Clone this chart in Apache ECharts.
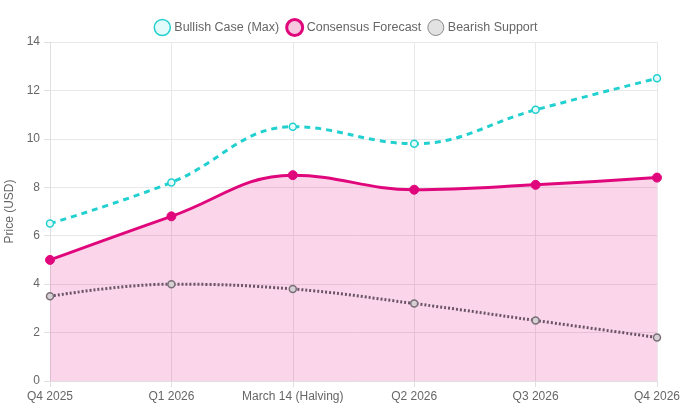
<!DOCTYPE html>
<html>
<head>
<meta charset="utf-8">
<script src="https://cdn.jsdelivr.net/npm/echarts@6/dist/echarts.min.js"></script>
<style>
html,body{margin:0;padding:0;background:#fff;}
#c{width:691px;height:419px;}
</style>
</head>
<body>
<div id="c"></div>
<script>
const categories = ['Q4 2025', 'Q1 2026', 'March 14 (Halving)', 'Q2 2026', 'Q3 2026', 'Q4 2026'];
const bullish = [6.5, 8.2, 10.5, 9.8, 11.2, 12.5];
const consensus = [5.0, 6.8, 8.5, 7.9, 8.1, 8.4];
const bearish = [3.5, 4.0, 3.8, 3.2, 2.5, 1.8];
const yTicks = {min: 0, max: 14, interval: 2};

const FONT = '"Liberation Sans", Arial, sans-serif';
const PINK = '#e0077d';
const CYAN = '#22d0d0';
const PURP = '#6b5468';

const chart = echarts.init(document.getElementById('c'));
chart.setOption({
  animation: false,
  textStyle: {fontFamily: FONT},
  legend: {
    top: 13,
    left: 'center',
    itemWidth: 16,
    itemHeight: 16,
    itemGap: 6,
    textStyle: {fontSize: 12.5, color: '#666', fontFamily: FONT, padding: [0, 0, 0, -1]},
    data: [
      {name: 'Bullish Case (Max)', icon: 'circle', itemStyle: {color: '#e3fbfb', borderColor: CYAN, borderWidth: 1.5}},
      {name: 'Consensus Forecast', icon: 'circle', itemStyle: {color: '#f7c6df', borderColor: PINK, borderWidth: 3}},
      {name: 'Bearish Support', icon: 'circle', itemStyle: {color: '#e2e2e2', borderColor: '#8a8a8a', borderWidth: 1}}
    ]
  },
  grid: {left: 50, right: 34, top: 42, bottom: 38, containLabel: false, outerBoundsMode: 'none'},
  xAxis: {
    type: 'category',
    data: categories,
    boundaryGap: false,
    axisLine: {show: true, lineStyle: {color: '#e0e0e0'}},
    axisTick: {show: true, length: 6, alignWithLabel: true, lineStyle: {color: '#e0e0e0'}},
    axisLabel: {color: '#666', fontSize: 12, margin: 10, fontFamily: FONT, interval: 0},
    splitLine: {show: true, lineStyle: {color: '#e8e8e8'}}
  },
  yAxis: {
    type: 'value',
    min: yTicks.min, max: yTicks.max, interval: yTicks.interval,
    name: 'Price (USD)',
    nameLocation: 'middle',
    nameGap: 30,
    nameRotate: 90,
    nameTextStyle: {color: '#666', fontSize: 12, fontFamily: FONT},
    axisLine: {show: true, lineStyle: {color: '#e0e0e0'}},
    axisTick: {show: true, length: 6, lineStyle: {color: '#e0e0e0'}},
    axisLabel: {color: '#666', fontSize: 12, margin: 10, fontFamily: FONT},
    splitLine: {show: true, lineStyle: {color: '#e8e8e8'}}
  },
  series: [
    {
      name: 'Consensus Forecast',
      type: 'line',
      data: consensus,
      smooth: 0.4,
      z: 2,
      symbol: 'circle',
      symbolSize: 9,
      lineStyle: {color: PINK, width: 3},
      itemStyle: {color: PINK, borderColor: PINK, borderWidth: 1},
      areaStyle: {color: 'rgba(228, 0, 125, 0.23)'}
    },
    {
      name: 'Bullish Case (Max)',
      type: 'line',
      data: bullish,
      smooth: 0.4,
      z: 3,
      symbol: 'circle',
      symbolSize: 7,
      lineStyle: {color: CYAN, width: 3, type: [6, 5]},
      itemStyle: {color: '#e3fbfb', borderColor: CYAN, borderWidth: 1.5}
    },
    {
      name: 'Bearish Support',
      type: 'line',
      data: bearish,
      smooth: 0.4,
      z: 3,
      symbol: 'circle',
      symbolSize: 7,
      lineStyle: {color: PURP, width: 3, type: [2, 2]},
      itemStyle: {color: '#d6d0d4', borderColor: '#7a6f78', borderWidth: 1.5}
    }
  ]
});
</script>
</body>
</html>
